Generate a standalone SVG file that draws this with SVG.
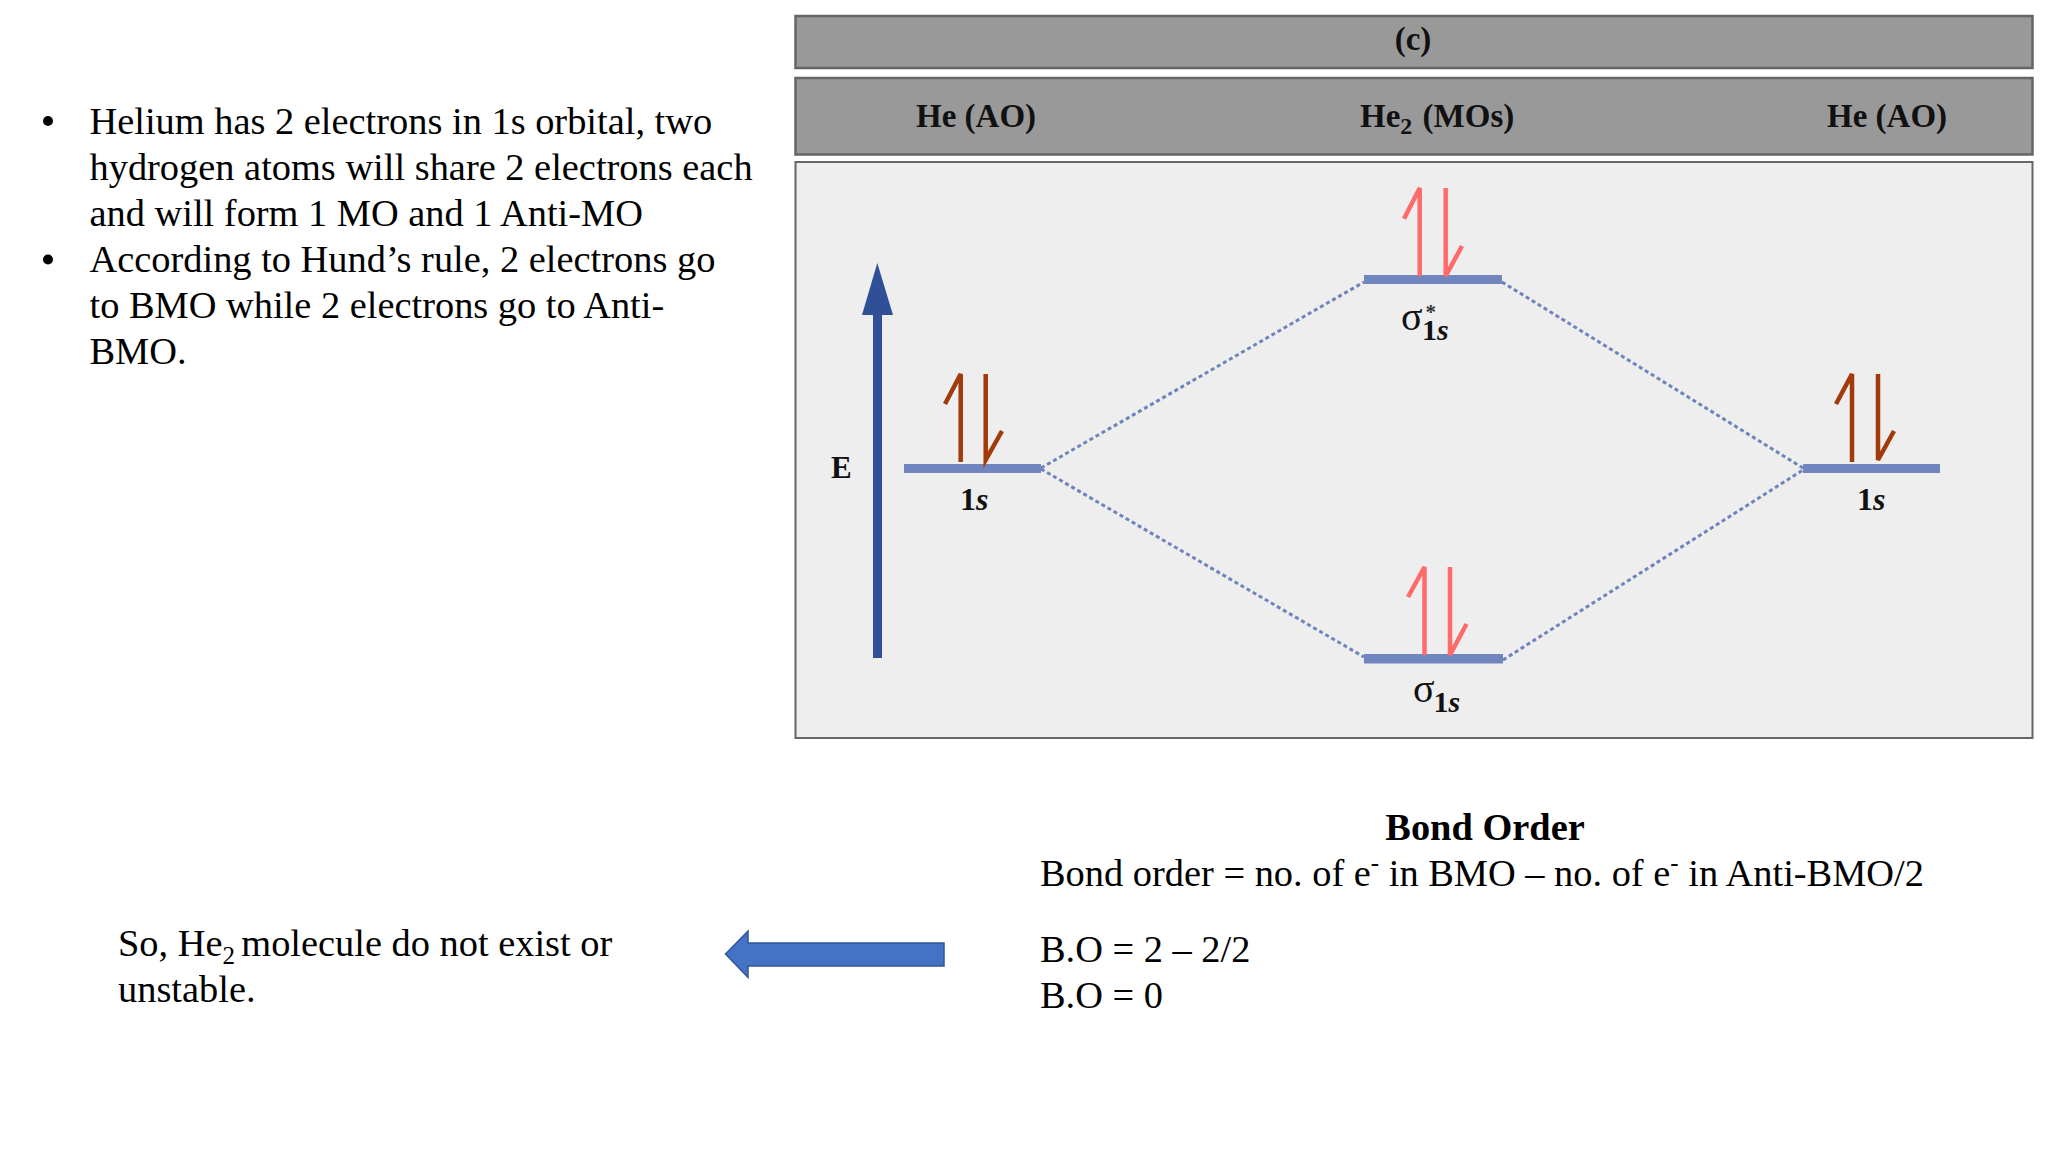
<svg xmlns="http://www.w3.org/2000/svg" width="2048" height="1152" viewBox="0 0 2048 1152">
<style>
text{font-family:"Liberation Serif","Times New Roman",serif;fill:#000}
.body{font-size:38.4px}
.lab{font-size:33px;font-weight:bold;fill:#111}
.orb{font-size:32px;font-weight:bold;fill:#111}
.sub{font-size:30px}
.sig{font-size:40px;font-weight:normal}
.bar{fill:#999;stroke:#666;stroke-width:2.5}
.lvl{fill:#7186bf}
.dot{fill:none;stroke:#6f83bd;stroke-width:3;stroke-dasharray:4 3}
.br{fill:none;stroke:#a33a0a;stroke-width:4.500}
.pk{fill:none;stroke:#ff6a6a;stroke-width:4.500}
</style>
<rect width="2048" height="1152" fill="#fff"/>
<g id="header-c"><rect class="bar" x="795.500" y="16" width="1237" height="52"/><text class="lab" x="1413" y="50" text-anchor="middle">(c)</text></g>
<g id="header-row"><rect class="bar" x="795.500" y="78" width="1237" height="76.500"/>
<text class="lab" x="916" y="127">He (AO)</text>
<text class="lab" x="1360" y="127">He<tspan font-size="24" dy="7">2</tspan><tspan dy="-7" dx="2"> (MOs)</tspan></text>
<text class="lab" x="1827" y="127">He (AO)</text></g>
<g id="panel"><rect x="795.500" y="162" width="1237" height="576" fill="#eee" stroke="#666" stroke-width="2"/></g>
<g id="connectors">
<line class="dot" x1="1041" y1="468" x2="1364" y2="282"/>
<line class="dot" x1="1502" y1="282" x2="1803" y2="468"/>
<line class="dot" x1="1041" y1="469" x2="1364" y2="657"/>
<line class="dot" x1="1503" y1="660" x2="1803" y2="470"/>
</g>
<g id="energy-axis">
<rect x="873" y="310" width="9" height="348" fill="#2f5097"/>
<polygon points="877.300,263 893,315 862,315" fill="#2f5097"/>
<text class="lab" x="831" y="478" style="font-size:31px">E</text>
</g>
<g id="ao-left">
<rect class="lvl" x="904" y="464" width="137" height="9"/>
<path class="br" d="M960.700 462V374L945 404M985.700 374V460L1002 431"/>
<text class="orb" x="960" y="510">1<tspan font-style="italic">s</tspan></text>
</g>
<g id="ao-right">
<rect class="lvl" x="1803" y="464" width="137" height="9"/>
<path class="br" d="M1852 462V374L1836 404M1878 374V460L1894 431"/>
<text class="orb" x="1857" y="510">1<tspan font-style="italic">s</tspan></text>
</g>
<g id="mo-antibonding">
<rect class="lvl" x="1364" y="275" width="138" height="9"/>
<path class="pk" d="M1419.700 276V188L1404 218.700M1445.700 188V276L1462 246"/>
<text class="orb" x="1401" y="330"><tspan class="sig">σ</tspan><tspan dy="-11" dx="3" style="font-size:21px;fill:#333">*</tspan><tspan class="sub" dy="21" dx="-14">1<tspan font-style="italic">s</tspan></tspan></text>
</g>
<g id="mo-bonding">
<rect class="lvl" x="1364" y="654" width="139" height="9.500"/>
<path class="pk" d="M1424.500 655V567L1408 597M1450 567V655L1466.500 624"/>
<text class="orb" x="1413" y="702"><tspan class="sig">σ</tspan><tspan class="sub" dy="10" dx="-1">1<tspan font-style="italic">s</tspan></tspan></text>
</g>
<g id="notes">
<circle cx="48" cy="121" r="5"/><circle cx="48" cy="259.500" r="5"/>
<text class="body" x="89.500" y="134">Helium has 2 electrons in 1s orbital, two</text>
<text class="body" x="89.500" y="180">hydrogen atoms will share 2 electrons each</text>
<text class="body" x="89.500" y="226">and will form 1 MO and 1 Anti-MO</text>
<text class="body" x="89.500" y="272">According to Hund’s rule, 2 electrons go</text>
<text class="body" x="89.500" y="318">to BMO while 2 electrons go to Anti-</text>
<text class="body" x="89.500" y="364">BMO.</text>
</g>
<g id="conclusion">
<text class="body" x="118" y="956">So, He<tspan font-size="25" dy="8">2 </tspan><tspan dy="-8">molecule do not exist or</tspan></text>
<text class="body" x="118" y="1002">unstable.</text>
</g>
<g id="left-arrow"><polygon points="725.500,954 748,931 748,943 944,943 944,966 748,966 748,977.500" fill="#4472c4" stroke="#2f5597" stroke-width="1.500"/></g>
<g id="bond-order">
<text class="body" x="1485" y="840" text-anchor="middle" font-weight="bold">Bond Order</text>
<text class="body" x="1040" y="886">Bond order = no. of e<tspan font-size="25" dy="-15">-</tspan><tspan dy="15"> in BMO – no. of e</tspan><tspan font-size="25" dy="-15">-</tspan><tspan dy="15"> in Anti-BMO/2</tspan></text>
<text class="body" x="1040" y="962">B.O = 2 – 2/2</text>
<text class="body" x="1040" y="1008">B.O = 0</text>
</g>
</svg>
